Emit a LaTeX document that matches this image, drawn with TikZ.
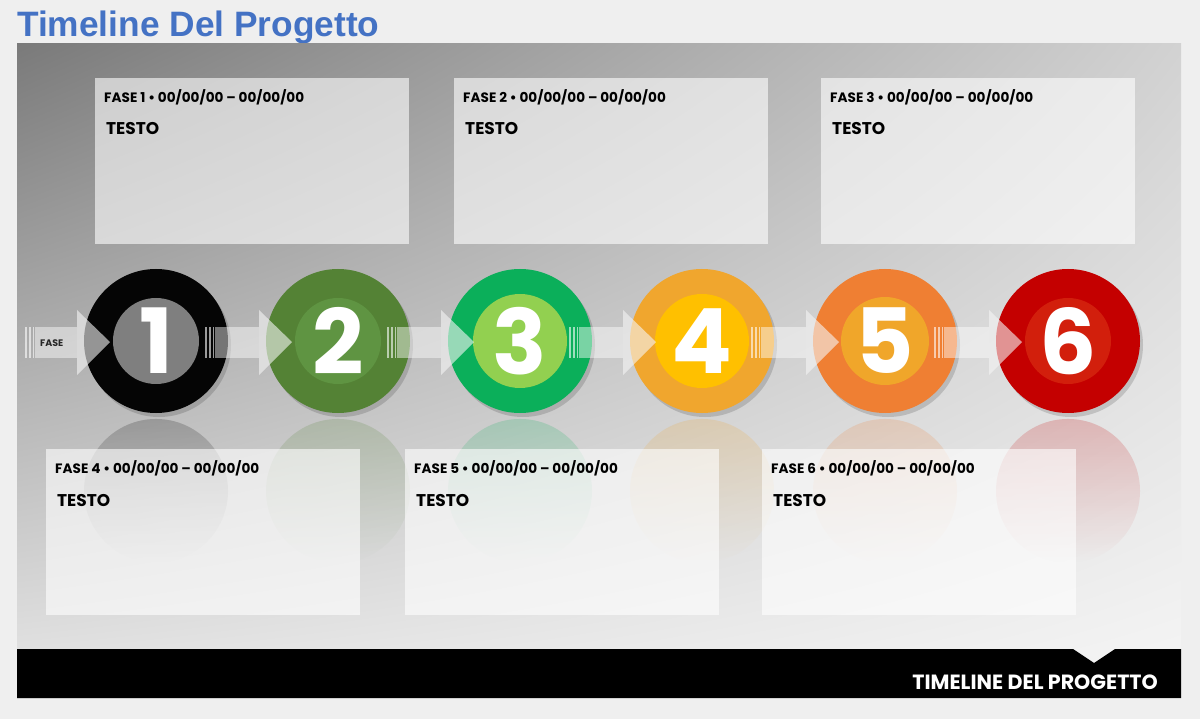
\documentclass[tikz,border=0pt]{standalone}
\usepackage{fontspec}
\setmainfont{Poppins}
\newfontfamily\arialfont{Liberation Sans}
\usetikzlibrary{fadings,shadings}
\definecolor{bgout}{HTML}{EFEFEF}
\definecolor{titleblue}{HTML}{4472C4}
\definecolor{pUL}{HTML}{7A7A7A}\definecolor{pUR}{HTML}{D2D2D2}
\definecolor{pLL}{HTML}{E8E8E8}\definecolor{pLR}{HTML}{F6F6F6}
\definecolor{cA}{HTML}{050505}\definecolor{iA}{HTML}{7F7F7F}
\definecolor{cB}{HTML}{548235}\definecolor{iB}{HTML}{5F9442}
\definecolor{cC}{HTML}{0BAF5A}\definecolor{iC}{HTML}{92D050}
\definecolor{cD}{HTML}{F0A62E}\definecolor{iD}{HTML}{FFC000}
\definecolor{cE}{HTML}{EF7F33}\definecolor{iE}{HTML}{F0A62A}
\definecolor{cF}{HTML}{C40000}\definecolor{iF}{HTML}{D21F0C}
\tikzfading[name=reflfade, top color=transparent!80, middle color=transparent!92, bottom color=transparent!100]
\tikzset{
  infobox/.style={fill=white, fill opacity=0.6, draw=none},
  hdrtext/.style={anchor=west, font=\bfseries\fontsize{13.6}{15}\selectfont, text=black, inner sep=0},
  bodytext/.style={anchor=west, font=\bfseries\fontsize{17}{19}\selectfont, text=black, inner sep=0},
  numtext/.style={font=\bfseries\fontsize{90}{92}\selectfont, text=white, inner sep=0},
  bandfill/.style={fill=white, fill opacity=0.45},
  headfill/.style={fill=white!92!gray, fill opacity=0.6},
  stripe/.style={fill=white, fill opacity=0.6}
}
\begin{document}
\begin{tikzpicture}[x=1pt,y=-1pt]
\useasboundingbox (0,0) rectangle (1200,719);
\fill[bgout] (0,0) rectangle (1200,719);
% title
\node[anchor=base west, inner sep=0, font=\arialfont\bfseries\fontsize{35.3}{38}\selectfont, text=titleblue] (title) at (17,37) {Timeline Del Progetto};
% panel
\shade[upper left=pUL, upper right=pUR, lower left=pLL, lower right=pLR]
  (17,44) rectangle (1181,698);
% top boxes
\foreach \bx/\n in {95/1,454/2,821/3}{
  \fill[infobox] (\bx,78) rectangle ++(314,166);
  \node[hdrtext] (h\n) at (\bx+9,97) {FASE \n\ • 00/00/00 – 00/00/00};
  \node[bodytext] (t\n) at (\bx+11,129) {TESTO};
}
% reflections
\foreach \cx/\col in {156/cA,338/cB,520/cC,702/cD,885/cE,1068/cF}{
  \fill[\col, path fading=reflfade] (\cx,491) circle (72);
}
% bottom boxes
\foreach \bx/\n in {46/4,405/5,762/6}{
  \fill[infobox] (\bx,449) rectangle ++(314,166);
  \node[hdrtext] (h\n) at (\bx+9,468) {FASE \n\ • 00/00/00 – 00/00/00};
  \node[bodytext] (t\n) at (\bx+11,501) {TESTO};
}
% circles
\foreach \cx/\oc/\ic/\ir/\k in {156/cA/iA/43/1,338/cB/iB/43/2,520/cC/iC/47/3,702/cD/iD/47/4,885/cE/iE/44/5,1068/cF/iF/43/6}{
  \fill[black, opacity=0.15] (\cx+3,345) circle (72);
  \fill[\oc] (\cx,341) circle (72);
  \fill[\ic] (\cx,341) circle (\ir);
  \coordinate (c\k) at (\cx,341);
}
% arrows
\foreach \s/\nx in {25/156,205/338,387/520,569/702,751/885,934/1068}{
  \fill[stripe] (\s,327) rectangle (\s+2,358);
  \fill[stripe] (\s+4,327) rectangle (\s+5.5,358);
  \fill[stripe] (\s+7.5,327) rectangle (\s+9,358);
  \fill[bandfill] (\s+10,327) rectangle (\nx-79,358);
  \fill[headfill] (\nx-79,310) -- (\nx-46,342) -- (\nx-79,375) -- cycle;
}
\node[anchor=west, inner sep=0, font=\bfseries\fontsize{9.5}{10}\selectfont, text=black!85] (fase) at (40,343) {FASE};
% numbers
\foreach \k in {1,...,6}{
  \node[numtext] (n\k) at (c\k) {\k};
}
% bottom bar
\fill[black] (17,649) -- (1073,649) -- (1094,663) -- (1115,649) -- (1181,649) -- (1181,698) -- (17,698) -- cycle;
\node[anchor=base east, inner sep=0, font=\bfseries\fontsize{20.6}{22}\selectfont, text=white] (foot) at (1158,689) {TIMELINE DEL PROGETTO};
\end{tikzpicture}
\end{document}
